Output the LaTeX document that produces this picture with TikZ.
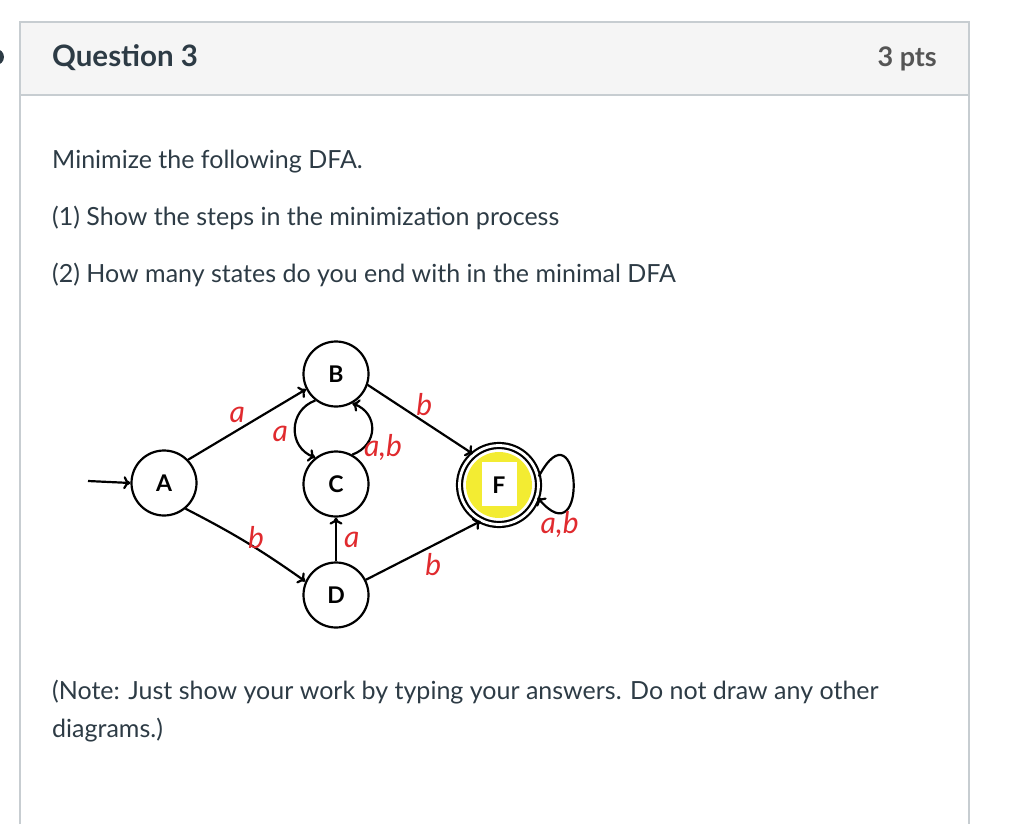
\documentclass[tikz,border=0pt]{standalone}
\usepackage{fontspec}
\setmainfont{Lato}
\usetikzlibrary{positioning,arrows.meta}
\definecolor{canvasText}{HTML}{2D3B45}
\definecolor{canvasGray}{HTML}{555555}
\definecolor{canvasBorder}{HTML}{C7CDD1}
\definecolor{canvasHead}{HTML}{F5F5F5}
\definecolor{penRed}{HTML}{E02A2E}
\definecolor{markYellow}{HTML}{F3EC32}
\tikzset{
    dfaState/.style={circle, draw, line width=2.2pt, minimum size=65pt, inner sep=0pt,
        font=\fontsize{23}{23}\selectfont\bfseries},
    finalState/.style={dfaState, minimum size=79pt, double, double distance=2.8pt,
        path picture={
            \fill[markYellow] (path picture bounding box.center) circle (33pt);
            \fill[white] ([shift={(-17pt,-21pt)}]path picture bounding box.center)
                rectangle ([shift={(18pt,23pt)}]path picture bounding box.center);
        }},
    transEdge/.style={line width=2.2pt, -{To[length=7pt,width=13pt]}},
    penLabel/.style={text=penRed, font=\fontsize{30}{30}\selectfont\itshape, inner sep=1pt},
    bodyText/.style={anchor=base west, text=canvasText, inner sep=0pt,
        font=\fontsize{25}{29}\selectfont},
}
\begin{document}
\begin{tikzpicture}[x=1pt,y=1pt]
\useasboundingbox (0,0) rectangle (1024,-824);
% question box
\fill[canvasHead] (20,-22) rectangle (969,-95);
\draw[canvasBorder, line width=1.2pt] (20,-824) -- (20,-22) -- (969,-22) -- (969,-824);
\draw[canvasBorder, line width=1.2pt] (20,-95) -- (969,-95);
\fill[canvasText] (-4,-57) circle (8);
\node[anchor=base west, text=canvasText, inner sep=0pt, font=\fontsize{29.5}{29.5}\selectfont\bfseries]
    (title) at (52,-67) {Question 3};
\node[anchor=base east, text=canvasGray, inner sep=0pt, font=\fontsize{27}{27}\selectfont\bfseries]
    (points) at (937,-67) {3 pts};
% question text
\node[bodyText] (intro) at (52,-168) {Minimize the following DFA.};
\node[bodyText] (partOne) at (52,-225) {(1) Show the steps in the minimization process};
\node[bodyText] (partTwo) at (52,-282) {(2) How many states do you end with in the minimal DFA};
\node[bodyText] (noteOne) at (52,-699) {(Note: Just show your work by typing your answers. Do not draw any other};
\node[bodyText] (noteTwo) at (52,-737) {diagrams.)};
% states
\node[dfaState] (A) at (164,-483) {A};
\node[dfaState] (B) at (336,-374) {B};
\node[dfaState] (C) at (336,-484) {C};
\node[dfaState] (D) at (336,-595) {D};
\node[finalState] (F) at (499,-485) {F};
\coordinate (start) at (88,-481);
% transitions
\draw[transEdge] (start) -- (A.west);
\draw[transEdge] (A.44) -- node[penLabel, above left=0pt and 0pt] {a} (B.207);
\draw[transEdge] (A.-50) to[bend left=4] node[penLabel, above right=-8pt and -1pt] {b} (D.156);
\draw[transEdge] (B.232) to[out=200, in=160, looseness=1.3] node[penLabel, left=5pt, yshift=-5pt] {a} (C.128);
\draw[transEdge] (C.61) to[out=20, in=-20, looseness=1.4] node[penLabel, below right=3pt and -10pt] {a,b} (B.299);
\draw[transEdge] (D.north) -- node[penLabel, right=6pt] {a} (C.south);
\draw[transEdge] (B.-19) -- node[penLabel, above right=2pt and -6pt] {b} (F.130);
\draw[transEdge] (D.27) -- node[penLabel, below right=1pt and 0pt] {b} (F.243);
\draw[transEdge] (F.12) .. controls +(62:88) and +(-50:82) .. node[penLabel, pos=1, anchor=north west, shift={(1pt,-12pt)}] {a,b} (F.-18);
\end{tikzpicture}
\end{document}
